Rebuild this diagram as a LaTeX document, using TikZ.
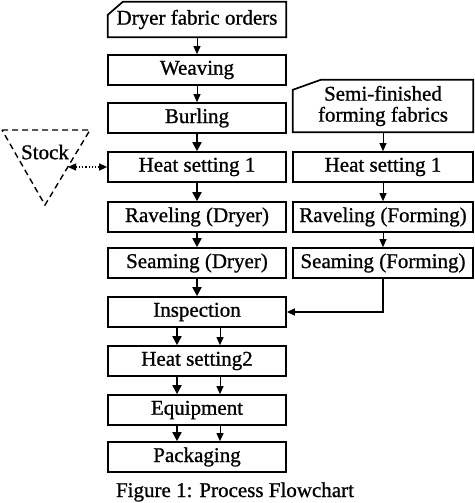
\documentclass[tikz,border=0pt]{standalone}
\usepackage{fontspec}
\setmainfont{Liberation Serif}[FakeBold=0.9]
\usetikzlibrary{arrows.meta,calc,positioning}

\tikzset{
  procbox/.style={draw,line width=1.7pt,minimum width=178pt,minimum height=30pt,inner sep=0pt},
  cardbox/.style={minimum width=178pt,minimum height=35pt,inner sep=0pt},
  flow/.style={-{Triangle[length=9pt,width=9pt]},line width=1.8pt},
  thinflow/.style={-{Triangle[length=8pt,width=7pt]},line width=1pt},
}

\begin{document}
\begin{tikzpicture}[x=1pt,y=-1pt,font=\fontsize{21}{21}\selectfont]
  \useasboundingbox (0,0) rectangle (474,503);
  % dryer fabric line
  \node[cardbox] (orders) at (197,19.5) {Dryer fabric orders};
  \draw[line width=1.7pt] ([yshift=-13pt]orders.north west) -- ([xshift=15pt]orders.north west)
    -- (orders.north east) -- (orders.south east) -- (orders.south west) -- cycle;
  \node[procbox] (weaving) at (197,70) {Weaving};
  \node[procbox] (burling) at (197,118) {Burling};
  \node[procbox] (heatl) at (197,167) {Heat setting 1};
  \node[procbox] (ravell) at (197,217) {Raveling (Dryer)};
  \node[procbox] (seaml) at (197,263) {Seaming (Dryer)};
  \node[procbox] (insp) at (197,312) {Inspection};
  \node[procbox] (heat2) at (197,361) {Heat setting2};
  \node[procbox] (equip) at (197,410) {Equipment};
  \node[procbox] (pack) at (197,457) {Packaging};
  % forming fabric line
  \node[cardbox,minimum width=180pt,minimum height=52pt,align=center] (semi) at (383,106)
    {Semi-finished\\forming fabrics};
  \draw[line width=1.7pt] ([yshift=-10pt]semi.north west) -- ([xshift=28pt]semi.north west)
    -- (semi.north east) -- (semi.south east) -- (semi.south west) -- cycle;
  \node[procbox,minimum width=180pt] (heatr) at (383,167) {Heat setting 1};
  \node[procbox,minimum width=180pt] (ravelr) at (383,217) {Raveling (Forming)};
  \node[procbox,minimum width=180pt] (seamr) at (383,263) {Seaming (Forming)};
  % stock
  \draw[line width=1.4pt,dash pattern=on 6pt off 4pt] (2,130) -- (90,130) -- (45,205) -- cycle;
  \node (stock) at (45,152) {Stock};
  \coordinate (stockend) at (68,167);
  \draw[{Triangle[length=8pt,width=7pt]}-{Triangle[length=8pt,width=7pt]},line width=1.2pt,dotted]
    (stockend) -- (heatl.west);
  % connectors
  \draw[thinflow] (orders) -- (weaving);
  \draw[thinflow] (weaving) -- (burling);
  \draw[flow] (burling) -- (heatl);
  \draw[flow] (heatl) -- (ravell);
  \draw[flow] (ravell) -- (seaml);
  \draw[flow] (seaml) -- (insp);
  \draw[thinflow] (semi) -- (heatr);
  \draw[thinflow] (heatr) -- (ravelr);
  \draw[thinflow] (ravelr) -- (seamr);
  \draw[thinflow,line width=1.3pt] (seamr.south) |- (insp.east);
  \foreach \a/\b in {insp/heat2,heat2/equip,equip/pack}{
    \draw[flow] ([xshift=-20pt]\a.south) -- ([xshift=-20pt]\b.north);
    \draw[thinflow] ([xshift=23pt]\a.south) -- ([xshift=23pt]\b.north);
  }
  \node (caption) at (235,492) {Figure 1: Process Flowchart};
\end{tikzpicture}
\end{document}
